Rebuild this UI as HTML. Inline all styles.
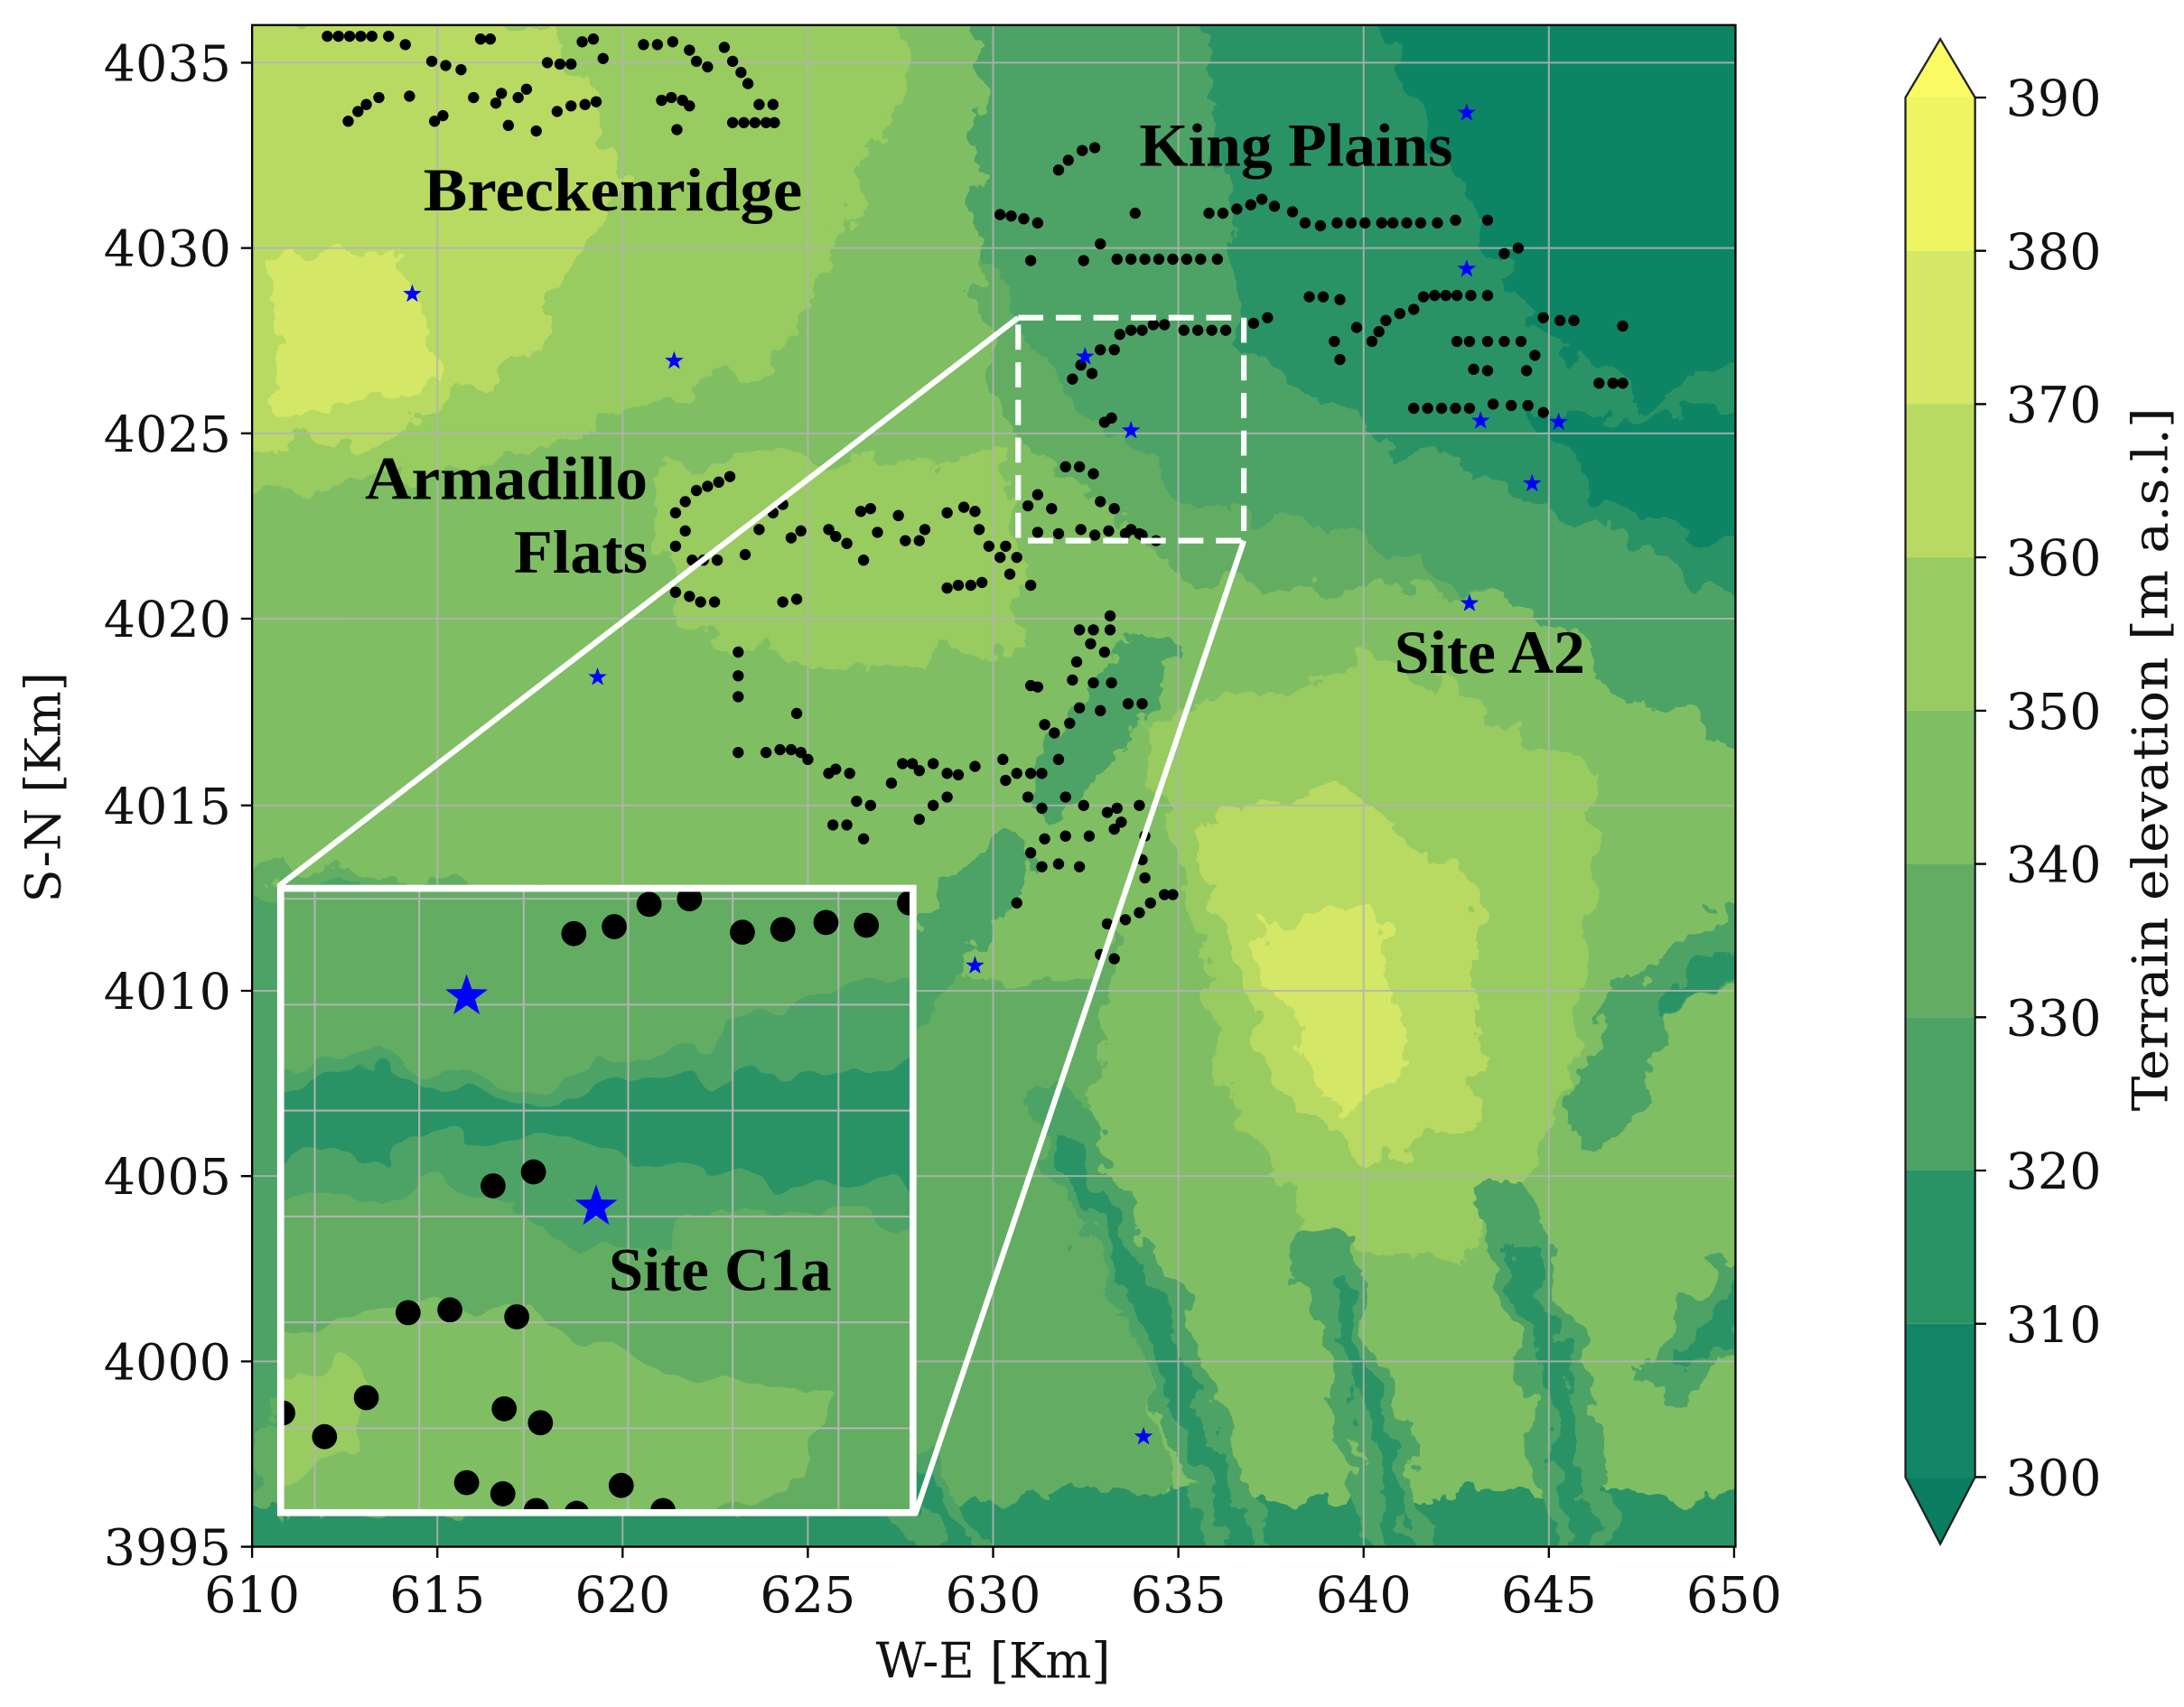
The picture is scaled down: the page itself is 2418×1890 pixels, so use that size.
<!DOCTYPE html>
<html><head><meta charset="utf-8"><style>html,body{margin:0;padding:0;background:#fff}svg{display:block}</style></head>
<body>
<svg width="2418" height="1890" viewBox="0 0 1568 1225" preserveAspectRatio="none" xmlns="http://www.w3.org/2000/svg">
<defs>
<clipPath id="pc"><rect x="181" y="18" width="1065" height="1092"/></clipPath>
<clipPath id="ic"><rect x="203" y="639" width="451" height="445"/></clipPath>
<filter id="rough" x="-10%" y="-10%" width="120%" height="120%">
<feTurbulence type="fractalNoise" baseFrequency="0.035" numOctaves="4" seed="3"/>
<feDisplacementMap in="SourceGraphic" scale="40" xChannelSelector="R" yChannelSelector="G"/>
</filter>
<filter id="rough2" x="-10%" y="-10%" width="120%" height="120%">
<feTurbulence type="fractalNoise" baseFrequency="0.02" numOctaves="3" seed="7"/>
<feDisplacementMap in="SourceGraphic" scale="50" xChannelSelector="R" yChannelSelector="G"/>
</filter>
<path id="st" d="M0,-1 L.235,-.324 L.951,-.309 L.38,.124 L.588,.809 L0,.4 L-.588,.809 L-.38,.124 L-.951,-.309 L-.235,-.324Z" fill="#0000ff"/>
</defs>

<g clip-path="url(#pc)">
<rect x="181" y="18" width="1065" height="1092" fill="#63ad63"/>
<g filter="url(#rough)" stroke="none">
<path fill="#7fbe63" d="M150,0 L760,0 L760,130 L700,200 L720,300 L860,420 L860,560 L780,700 L600,700 L400,640 L150,620 Z"/>
<path fill="#7fbe63" d="M840,420 L1280,430 L1280,1140 L860,1140 L780,820 Z"/>
<path fill="#98cb61" d="M150,0 L660,0 L620,130 L560,260 L430,310 L300,340 L150,360 Z"/>
<path fill="#98cb61" d="M470,330 L720,330 L740,460 L620,480 L490,450 Z"/>
<path fill="#98cb61" d="M820,520 L1000,470 L1150,560 L1130,780 L1050,900 L950,900 L880,780 Z"/>
<path fill="#b8da63" d="M150,0 L400,20 L450,120 L380,250 L270,320 L150,320 Z"/>
<path fill="#b8da63" d="M860,600 L960,560 L1060,640 L1060,800 L980,840 L900,760 Z"/>
<path fill="#d4e766" d="M190,190 L290,180 L320,280 L200,300 Z"/>
<path fill="#d4e766" d="M900,660 L990,650 L1010,780 L960,800 L920,730 Z"/>
<path fill="#4da365" d="M700,0 L1280,0 L1280,560 L1100,440 L950,380 L860,360 L760,280 L700,160 Z"/>
<path fill="#2a9366" d="M860,0 L1280,0 L1280,440 L1130,370 L1000,320 L900,260 L880,140 Z"/>
<path fill="#118565" d="M980,0 L1280,0 L1280,250 L1180,290 L1100,230 L1040,120 Z"/>
<path fill="#118565" d="M1100,300 L1280,290 L1280,400 L1150,360 Z"/>
<path fill="#4da365" d="M150,640 L260,640 L240,900 L150,1140 Z"/>
<path fill="#2a9366" d="M150,1085 L1280,1070 L1280,1140 L150,1140 Z"/>
<g fill="none" stroke-linecap="round">
<g stroke="#4da365" stroke-width="44">
<path d="M760,800 L830,950 L900,1130"/><path d="M950,900 L980,1000 L1010,1130"/>
<path d="M1080,870 L1120,1000 L1140,1130"/><path d="M1280,650 L1180,720 L1150,800"/>
<path d="M600,1000 L700,1130"/><path d="M720,620 L640,720 L560,780"/><path d="M1280,900 L1200,980"/>
<path d="M820,480 L760,560"/><path d="M1246,500 L1160,470"/>
</g>
<g stroke="#2a9366" stroke-width="18">
<path d="M770,830 L830,950 L900,1130"/><path d="M960,930 L980,1000 L1010,1130"/>
<path d="M1090,900 L1120,1000 L1140,1130"/><path d="M1280,660 L1200,720"/>
<path d="M620,1020 L700,1130"/><path d="M1280,910 L1210,975"/>
</g>
</g>
</g>
<g stroke="#b4b4b4" stroke-width="1.3" opacity="0.85">
<path d="M314,18V1110M447,18V1110M580,18V1110M713,18V1110M846,18V1110M979,18V1110M1112,18V1110"/>
<path d="M181,45H1246M181,178H1246M181,311H1246M181,444H1246M181,578H1246M181,711H1246M181,844H1246M181,977H1246"/>
</g>

<g fill="#000">
<circle cx="235" cy="26" r="4"/><circle cx="243" cy="26" r="4"/><circle cx="251" cy="26" r="4"/><circle cx="259" cy="26" r="4"/><circle cx="267" cy="26" r="4"/><circle cx="279" cy="26" r="4"/><circle cx="291" cy="32" r="4"/><circle cx="345" cy="28" r="4"/><circle cx="352" cy="28" r="4"/>
<circle cx="250" cy="87" r="4"/><circle cx="257" cy="80" r="4"/><circle cx="263" cy="75" r="4"/><circle cx="272" cy="70" r="4"/><circle cx="294" cy="69" r="4"/><circle cx="312" cy="87" r="4"/><circle cx="318" cy="83" r="4"/><circle cx="310" cy="44" r="4"/><circle cx="320" cy="47" r="4"/><circle cx="331" cy="50" r="4"/><circle cx="340" cy="70" r="4"/><circle cx="356" cy="74" r="4"/><circle cx="360" cy="67" r="4"/><circle cx="365" cy="90" r="4"/><circle cx="372" cy="70" r="4"/><circle cx="378" cy="64" r="4"/><circle cx="385" cy="94" r="4"/><circle cx="393" cy="45" r="4"/><circle cx="402" cy="46" r="4"/><circle cx="410" cy="46" r="4"/><circle cx="400" cy="80" r="4"/><circle cx="410" cy="76" r="4"/><circle cx="420" cy="75" r="4"/><circle cx="428" cy="73" r="4"/><circle cx="418" cy="30" r="4"/><circle cx="426" cy="28" r="4"/><circle cx="433" cy="42" r="4"/><circle cx="462" cy="32" r="4"/><circle cx="472" cy="32" r="4"/><circle cx="483" cy="30" r="4"/><circle cx="495" cy="36" r="4"/><circle cx="500" cy="44" r="4"/><circle cx="508" cy="48" r="4"/><circle cx="520" cy="34" r="4"/><circle cx="526" cy="44" r="4"/><circle cx="532" cy="52" r="4"/><circle cx="537" cy="60" r="4"/><circle cx="545" cy="75" r="4"/><circle cx="555" cy="75" r="4"/><circle cx="526" cy="88" r="4"/><circle cx="534" cy="88" r="4"/><circle cx="542" cy="88" r="4"/><circle cx="550" cy="88" r="4"/><circle cx="556" cy="88" r="4"/><circle cx="475" cy="72" r="4"/><circle cx="482" cy="70" r="4"/><circle cx="490" cy="72" r="4"/><circle cx="486" cy="93" r="4"/><circle cx="495" cy="76" r="4"/>
<circle cx="760" cy="122" r="4"/><circle cx="767" cy="115" r="4"/><circle cx="777" cy="108" r="4"/><circle cx="786" cy="106" r="4"/><circle cx="718" cy="154" r="4"/><circle cx="726" cy="155" r="4"/><circle cx="735" cy="157" r="4"/><circle cx="745" cy="160" r="4"/><circle cx="740" cy="187" r="4"/><circle cx="778" cy="187" r="4"/><circle cx="790" cy="175" r="4"/><circle cx="802" cy="186" r="4"/><circle cx="812" cy="186" r="4"/><circle cx="822" cy="186" r="4"/><circle cx="832" cy="186" r="4"/><circle cx="842" cy="186" r="4"/><circle cx="852" cy="186" r="4"/><circle cx="862" cy="186" r="4"/><circle cx="874" cy="186" r="4"/><circle cx="815" cy="153" r="4"/><circle cx="868" cy="153" r="4"/><circle cx="878" cy="153" r="4"/><circle cx="888" cy="150" r="4"/><circle cx="898" cy="147" r="4"/><circle cx="906" cy="143" r="4"/><circle cx="915" cy="148" r="4"/><circle cx="928" cy="152" r="4"/><circle cx="937" cy="160" r="4"/><circle cx="948" cy="162" r="4"/><circle cx="960" cy="160" r="4"/><circle cx="970" cy="160" r="4"/><circle cx="980" cy="160" r="4"/><circle cx="992" cy="160" r="4"/><circle cx="1000" cy="160" r="4"/><circle cx="1010" cy="160" r="4"/><circle cx="1020" cy="160" r="4"/><circle cx="1032" cy="160" r="4"/><circle cx="1045" cy="158" r="4"/><circle cx="1068" cy="158" r="4"/><circle cx="1080" cy="182" r="4"/><circle cx="1090" cy="178" r="4"/>
<circle cx="940" cy="213" r="4"/><circle cx="950" cy="213" r="4"/><circle cx="962" cy="215" r="4"/><circle cx="958" cy="245" r="4"/><circle cx="962" cy="258" r="4"/><circle cx="974" cy="235" r="4"/><circle cx="985" cy="245" r="4"/><circle cx="990" cy="238" r="4"/><circle cx="995" cy="230" r="4"/><circle cx="1005" cy="225" r="4"/><circle cx="1015" cy="222" r="4"/><circle cx="1022" cy="213" r="4"/><circle cx="1030" cy="212" r="4"/><circle cx="1038" cy="212" r="4"/><circle cx="1046" cy="212" r="4"/><circle cx="1056" cy="212" r="4"/><circle cx="1068" cy="212" r="4"/><circle cx="1046" cy="245" r="4"/><circle cx="1055" cy="245" r="4"/><circle cx="1068" cy="245" r="4"/><circle cx="1080" cy="245" r="4"/><circle cx="1092" cy="245" r="4"/><circle cx="1102" cy="255" r="4"/><circle cx="1108" cy="228" r="4"/><circle cx="1120" cy="230" r="4"/><circle cx="1130" cy="230" r="4"/><circle cx="1165" cy="234" r="4"/><circle cx="1165" cy="275" r="4"/><circle cx="1148" cy="275" r="4"/><circle cx="1158" cy="275" r="4"/><circle cx="1015" cy="293" r="4"/><circle cx="1025" cy="293" r="4"/><circle cx="1035" cy="293" r="4"/><circle cx="1045" cy="293" r="4"/><circle cx="1055" cy="293" r="4"/><circle cx="1072" cy="290" r="4"/><circle cx="1085" cy="291" r="4"/><circle cx="1097" cy="291" r="4"/><circle cx="1108" cy="296" r="4"/><circle cx="1096" cy="266" r="4"/><circle cx="1068" cy="266" r="4"/><circle cx="1058" cy="265" r="4"/>
<circle cx="910" cy="228" r="4"/><circle cx="900" cy="232" r="4"/><circle cx="880" cy="237" r="4"/><circle cx="870" cy="237" r="4"/><circle cx="860" cy="237" r="4"/><circle cx="850" cy="237" r="4"/><circle cx="836" cy="233" r="4"/><circle cx="828" cy="233" r="4"/><circle cx="820" cy="237" r="4"/><circle cx="812" cy="237" r="4"/><circle cx="804" cy="240" r="4"/><circle cx="800" cy="251" r="4"/><circle cx="790" cy="251" r="4"/><circle cx="776" cy="262" r="4"/><circle cx="770" cy="272" r="4"/><circle cx="784" cy="268" r="4"/><circle cx="798" cy="300" r="4"/><circle cx="793" cy="303" r="4"/>
<circle cx="765" cy="335" r="4"/><circle cx="775" cy="335" r="4"/><circle cx="745" cy="355" r="4"/><circle cx="738" cy="363" r="4"/><circle cx="755" cy="365" r="4"/><circle cx="745" cy="382" r="4"/><circle cx="760" cy="383" r="4"/><circle cx="776" cy="380" r="4"/><circle cx="786" cy="384" r="4"/><circle cx="796" cy="381" r="4"/><circle cx="808" cy="383" r="4"/><circle cx="818" cy="383" r="4"/><circle cx="830" cy="388" r="4"/><circle cx="790" cy="360" r="4"/><circle cx="800" cy="365" r="4"/><circle cx="785" cy="340" r="4"/><circle cx="812" cy="380" r="4"/><circle cx="820" cy="384" r="4"/>
<circle cx="485" cy="368" r="4"/><circle cx="492" cy="360" r="4"/><circle cx="500" cy="352" r="4"/><circle cx="508" cy="349" r="4"/><circle cx="516" cy="346" r="4"/><circle cx="524" cy="342" r="4"/><circle cx="485" cy="392" r="4"/><circle cx="492" cy="381" r="4"/><circle cx="497" cy="402" r="4"/><circle cx="505" cy="402" r="4"/><circle cx="515" cy="402" r="4"/><circle cx="485" cy="425" r="4"/><circle cx="495" cy="428" r="4"/><circle cx="503" cy="432" r="4"/><circle cx="513" cy="432" r="4"/><circle cx="535" cy="398" r="4"/><circle cx="545" cy="380" r="4"/><circle cx="555" cy="368" r="4"/><circle cx="562" cy="362" r="4"/><circle cx="568" cy="386" r="4"/><circle cx="575" cy="381" r="4"/><circle cx="595" cy="380" r="4"/><circle cx="600" cy="385" r="4"/><circle cx="608" cy="390" r="4"/><circle cx="618" cy="367" r="4"/><circle cx="625" cy="365" r="4"/><circle cx="620" cy="402" r="4"/><circle cx="630" cy="382" r="4"/><circle cx="645" cy="370" r="4"/><circle cx="650" cy="388" r="4"/><circle cx="660" cy="388" r="4"/><circle cx="664" cy="380" r="4"/><circle cx="680" cy="368" r="4"/><circle cx="692" cy="364" r="4"/><circle cx="700" cy="367" r="4"/><circle cx="703" cy="380" r="4"/><circle cx="710" cy="392" r="4"/><circle cx="718" cy="400" r="4"/><circle cx="722" cy="392" r="4"/><circle cx="725" cy="412" r="4"/><circle cx="705" cy="418" r="4"/><circle cx="697" cy="420" r="4"/><circle cx="688" cy="420" r="4"/><circle cx="680" cy="422" r="4"/><circle cx="562" cy="432" r="4"/><circle cx="572" cy="430" r="4"/><circle cx="740" cy="420" r="4"/><circle cx="730" cy="400" r="4"/>
<circle cx="797" cy="442" r="4"/><circle cx="797" cy="452" r="4"/><circle cx="785" cy="452" r="4"/><circle cx="775" cy="452" r="4"/><circle cx="783" cy="462" r="4"/><circle cx="793" cy="468" r="4"/><circle cx="773" cy="475" r="4"/><circle cx="770" cy="488" r="4"/><circle cx="785" cy="490" r="4"/><circle cx="798" cy="490" r="4"/><circle cx="810" cy="505" r="4"/><circle cx="820" cy="505" r="4"/><circle cx="775" cy="508" r="4"/><circle cx="790" cy="510" r="4"/><circle cx="768" cy="519" r="4"/><circle cx="745" cy="493" r="4"/><circle cx="740" cy="492" r="4"/><circle cx="750" cy="520" r="4"/><circle cx="757" cy="526" r="4"/><circle cx="760" cy="545" r="4"/><circle cx="748" cy="555" r="4"/><circle cx="740" cy="555" r="4"/><circle cx="730" cy="555" r="4"/><circle cx="720" cy="545" r="4"/><circle cx="722" cy="560" r="4"/><circle cx="738" cy="572" r="4"/><circle cx="748" cy="580" r="4"/><circle cx="765" cy="572" r="4"/><circle cx="778" cy="578" r="4"/><circle cx="795" cy="583" r="4"/><circle cx="802" cy="580" r="4"/><circle cx="818" cy="578" r="4"/><circle cx="805" cy="590" r="4"/><circle cx="782" cy="600" r="4"/><circle cx="765" cy="600" r="4"/><circle cx="750" cy="602" r="4"/><circle cx="740" cy="612" r="4"/><circle cx="748" cy="622" r="4"/><circle cx="760" cy="620" r="4"/><circle cx="775" cy="622" r="4"/><circle cx="800" cy="595" r="4"/><circle cx="730" cy="648" r="4"/><circle cx="822" cy="600" r="4"/><circle cx="822" cy="630" r="4"/><circle cx="818" cy="655" r="4"/><circle cx="808" cy="660" r="4"/><circle cx="795" cy="663" r="4"/><circle cx="790" cy="685" r="4"/><circle cx="800" cy="688" r="4"/><circle cx="826" cy="648" r="4"/><circle cx="836" cy="642" r="4"/><circle cx="842" cy="642" r="4"/><circle cx="820" cy="617" r="4"/>
<circle cx="530" cy="468" r="4"/><circle cx="530" cy="485" r="4"/><circle cx="530" cy="500" r="4"/><circle cx="530" cy="540" r="4"/><circle cx="550" cy="540" r="4"/><circle cx="560" cy="538" r="4"/><circle cx="568" cy="538" r="4"/><circle cx="572" cy="512" r="4"/><circle cx="575" cy="540" r="4"/><circle cx="580" cy="545" r="4"/><circle cx="595" cy="555" r="4"/><circle cx="600" cy="552" r="4"/><circle cx="610" cy="555" r="4"/><circle cx="598" cy="592" r="4"/><circle cx="608" cy="592" r="4"/><circle cx="620" cy="602" r="4"/><circle cx="615" cy="575" r="4"/><circle cx="625" cy="578" r="4"/><circle cx="640" cy="562" r="4"/><circle cx="648" cy="548" r="4"/><circle cx="655" cy="548" r="4"/><circle cx="660" cy="553" r="4"/><circle cx="670" cy="548" r="4"/><circle cx="680" cy="555" r="4"/><circle cx="688" cy="556" r="4"/><circle cx="700" cy="550" r="4"/><circle cx="680" cy="572" r="4"/><circle cx="670" cy="578" r="4"/><circle cx="660" cy="588" r="4"/>
</g>
<g>
<use href="#st" transform="translate(296,211) scale(7)"/><use href="#st" transform="translate(484,259) scale(7)"/><use href="#st" transform="translate(429,486) scale(7)"/><use href="#st" transform="translate(779,256) scale(7)"/><use href="#st" transform="translate(812,309) scale(7)"/><use href="#st" transform="translate(700,693) scale(7)"/><use href="#st" transform="translate(821,1031) scale(7)"/><use href="#st" transform="translate(1053,81) scale(7)"/><use href="#st" transform="translate(1053,193) scale(7)"/><use href="#st" transform="translate(1063,302) scale(7)"/><use href="#st" transform="translate(1119,303) scale(7)"/><use href="#st" transform="translate(1100,347) scale(7)"/><use href="#st" transform="translate(1055,433) scale(7)"/>
</g>

<!-- zoom connectors -->
<path d="M200,636 L731,228 M657,1087 L893,388" stroke="#fff" stroke-width="4" fill="none"/>
<rect x="731" y="228" width="162" height="160" fill="none" stroke="#fff" stroke-width="4" stroke-dasharray="18,9"/>

<!-- inset -->
<rect x="200" y="636" width="457" height="451" fill="#fff"/>
<g clip-path="url(#ic)">
<rect x="200" y="636" width="460" height="455" fill="#4da365"/>
<g filter="url(#rough2)">
<path fill="#63ad63" d="M180,620 L680,620 L680,700 L560,720 L480,760 L380,770 L280,760 L180,770 Z"/>
<path fill="#2a9366" d="M180,780 L300,770 L420,790 L560,760 L680,760 L680,850 L560,850 L460,830 L360,820 L180,830 Z"/>
<path fill="#63ad63" d="M180,880 L300,850 L380,870 L420,900 L540,870 L680,880 L680,1100 L180,1100 Z"/>
<path fill="#7fbe63" d="M180,960 L300,930 L420,960 L520,990 L600,1000 L580,1060 L460,1100 L180,1100 Z"/>
<path fill="#98cb61" d="M180,990 L240,975 L280,1000 L260,1040 L180,1060 Z"/>
</g>
<g stroke="#b4b4b4" stroke-width="1.3">
<path d="M226,636V1090M301,636V1090M376,636V1090M451,636V1090M526,636V1090M602,636V1090"/>
<path d="M200,645H660M200,721H660M200,797H660M200,873H660M200,949H660M200,1025H660"/>
</g>
<g fill="#000">
<circle cx="412" cy="670" r="9"/><circle cx="441" cy="665" r="9"/><circle cx="466" cy="649" r="9"/><circle cx="495" cy="645" r="9"/><circle cx="533" cy="669" r="9"/><circle cx="562" cy="667" r="9"/><circle cx="593" cy="662" r="9"/><circle cx="622" cy="664" r="9"/><circle cx="653" cy="648" r="9"/>
<circle cx="354" cy="851" r="9"/><circle cx="383" cy="841" r="9"/>
<circle cx="293" cy="942" r="9"/><circle cx="323" cy="940" r="9"/><circle cx="371" cy="945" r="9"/>
<circle cx="203" cy="1014" r="9"/><circle cx="233" cy="1031" r="9"/><circle cx="263" cy="1003" r="9"/><circle cx="362" cy="1011" r="9"/><circle cx="388" cy="1021" r="9"/>
<circle cx="335" cy="1064" r="9"/><circle cx="361" cy="1072" r="9"/><circle cx="385" cy="1084" r="9"/><circle cx="414" cy="1086" r="9"/><circle cx="446" cy="1066" r="9"/><circle cx="476" cy="1084" r="9"/><circle cx="507" cy="1093" r="9"/>
</g>
<use href="#st" transform="translate(335,715) scale(16)"/>
<use href="#st" transform="translate(428,866) scale(16)"/>
</g>
<rect x="201.5" y="637.5" width="454" height="448" fill="none" stroke="#fff" stroke-width="5"/>
</g>
<rect x="181" y="18" width="1065" height="1092" fill="none" stroke="#000" stroke-width="1.5"/>

<!-- labels -->
<g font-family="'Liberation Serif',serif" font-weight="bold" fill="#000" font-size="44">
<text x="304" y="151" textLength="272" lengthAdjust="spacingAndGlyphs">Breckenridge</text>
<text x="818" y="119" textLength="225" lengthAdjust="spacingAndGlyphs">King Plains</text>
<text x="262" y="358" textLength="203" lengthAdjust="spacingAndGlyphs">Armadillo</text>
<text x="369" y="411" textLength="96" lengthAdjust="spacingAndGlyphs">Flats</text>
<text x="1001" y="483" textLength="137" lengthAdjust="spacingAndGlyphs">Site A2</text>
<text x="437" y="926" textLength="160" lengthAdjust="spacingAndGlyphs">Site C1a</text>
</g>

<!-- ticks -->
<g stroke="#000" stroke-width="1.5">
<path d="M181,1110v8M314,1110v8M447,1110v8M580,1110v8M713,1110v8M846,1110v8M979,1110v8M1112,1110v8M1245,1110v8"/>
<path d="M181,45h-8M181,178h-8M181,311h-8M181,444h-8M181,578h-8M181,711h-8M181,844h-8M181,977h-8M181,1110h-8"/>
</g>
<g font-family="'DejaVu Serif',serif" font-size="36" fill="#111">
<g text-anchor="middle">
<text x="181" y="1157">610</text><text x="314" y="1157">615</text><text x="447" y="1157">620</text><text x="580" y="1157">625</text><text x="713" y="1157">630</text><text x="846" y="1157">635</text><text x="979" y="1157">640</text><text x="1112" y="1157">645</text><text x="1245" y="1157">650</text>
</g>
<g text-anchor="end">
<text x="166" y="58">4035</text><text x="166" y="191">4030</text><text x="166" y="324">4025</text><text x="166" y="457">4020</text><text x="166" y="591">4015</text><text x="166" y="724">4010</text><text x="166" y="857">4005</text><text x="166" y="990">4000</text><text x="166" y="1123">3995</text>
</g>
<text x="713" y="1204" text-anchor="middle" font-size="35">W-E [Km]</text>
<text transform="translate(43,565) rotate(-90)" text-anchor="middle" font-size="35">S-N [Km]</text>
</g>

<!-- colorbar -->
<g>
<rect x="1368" y="70" width="50" height="110" fill="#eef562"/>
<rect x="1368" y="180" width="50" height="110" fill="#d4e766"/>
<rect x="1368" y="290" width="50" height="110" fill="#b8da63"/>
<rect x="1368" y="400" width="50" height="110" fill="#98cb61"/>
<rect x="1368" y="510" width="50" height="110" fill="#7fbe63"/>
<rect x="1368" y="620" width="50" height="110" fill="#63ad63"/>
<rect x="1368" y="730" width="50" height="110" fill="#4da365"/>
<rect x="1368" y="840" width="50" height="110" fill="#2a9366"/>
<rect x="1368" y="950" width="50" height="110" fill="#118565"/>
<path d="M1368,70 L1393,28 L1418,70 Z" fill="#fafa62"/>
<path d="M1368,1060 L1393,1108 L1418,1060 Z" fill="#0b7d62"/>
<path d="M1368,70 L1393,28 L1418,70 L1418,1060 L1393,1108 L1368,1060 Z" fill="none" stroke="#222" stroke-width="1.5"/>
<g stroke="#000" stroke-width="1.5"><path d="M1418,70h8M1418,180h8M1418,290h8M1418,400h8M1418,510h8M1418,620h8M1418,730h8M1418,840h8M1418,950h8M1418,1060h8"/></g>
<g font-family="'DejaVu Serif',serif" font-size="36" fill="#111">
<text x="1440" y="83">390</text><text x="1440" y="193">380</text><text x="1440" y="303">370</text><text x="1440" y="413">360</text><text x="1440" y="523">350</text><text x="1440" y="633">340</text><text x="1440" y="743">330</text><text x="1440" y="853">320</text><text x="1440" y="963">310</text><text x="1440" y="1073">300</text>
<text transform="translate(1556,545) rotate(-90)" text-anchor="middle" font-size="35" textLength="505" lengthAdjust="spacingAndGlyphs">Terrain elevation [m a.s.l.]</text>
</g>
</g>
</svg>
</body></html>
